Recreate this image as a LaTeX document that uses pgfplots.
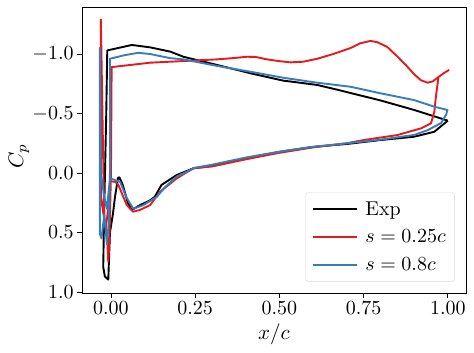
\documentclass[border=0pt]{standalone}
\usepackage{graphicx}
\usepackage{pgfplots}
\pgfplotsset{compat=1.18}
\definecolor{cred}{HTML}{E41A1C}
\definecolor{cblue}{HTML}{377EB8}
\newcommand{\legtxt}[1]{\scalebox{2.0}{#1}}
\begin{document}
\begin{tikzpicture}
\begin{axis}[
  scale only axis,
  width=384pt, height=286pt,
  xmin=-0.086, xmax=1.054,
  ymin=-1.395, ymax=1.008,
  y dir=reverse,
  axis line style={line width=0.8pt},
  tick align=outside,
  tick pos=left,
  major tick length=5pt,
  every tick/.style={black, line width=0.8pt},
  xtick={0,0.25,0.5,0.75,1},
  ytick={-1,-0.5,0,0.5,1},
  xticklabel style={/pgf/number format/.cd, fixed, fixed zerofill, precision=2},
  yticklabel style={/pgf/number format/.cd, fixed, fixed zerofill, precision=1},
  tick label style={font=\normalsize, scale=2.0, inner sep=1.5pt},
  xlabel={$x/c$}, ylabel={$C_p$},
  label style={font=\normalsize, scale=2.1, inner sep=0pt},
  xlabel style={at={(axis description cs:0.5,-0.143)}, anchor=center},
  ylabel style={at={(axis description cs:-0.164,0.48)}, anchor=center},
  legend style={at={(0.971,0.04)}, anchor=south east, draw=black!15, rounded corners=3pt,
    fill=white, font=\normalsize, row sep=9.5pt, column sep=5pt, inner xsep=7pt, inner ysep=7pt},
  legend cell align=left,
  legend image code/.code={\draw[#1] plot coordinates {(0pt,0pt) (22pt,0pt) (44pt,0pt)};},
]
\addplot[black, line width=1.9pt, line join=round] coordinates {
(1.000,-0.44)(0.90,-0.53)(0.80,-0.61)(0.672,-0.70)(0.612,-0.74)(0.53,-0.77)(0.512,-0.776)
(0.414,-0.838)(0.315,-0.908)(0.215,-0.977)(0.176,-1.02)(0.116,-1.056)(0.062,-1.076)
(-0.011,-1.03)(-0.014,-0.5)(-0.020,0.3)(-0.023,0.79)(-0.018,0.87)(-0.008,0.895)
(-0.003,0.5)(0.006,0.34)(0.012,0.2)(0.021,0.04)(0.025,0.036)(0.035,0.1)(0.05,0.25)
(0.062,0.31)(0.086,0.27)(0.116,0.23)(0.13,0.2)(0.15,0.10)(0.195,0.017)(0.245,-0.04)
(0.30,-0.06)(0.404,-0.123)(0.503,-0.179)(0.60,-0.22)(0.70,-0.244)(0.80,-0.277)
(0.90,-0.305)(0.96,-0.347)(1.000,-0.44)
};
\addlegendentry{\legtxt{Exp}}
\addplot[cred, line width=1.9pt, line join=round] coordinates {
(1.004,-0.866)(0.99,-0.843)(0.974,-0.81)(0.955,-0.77)(0.94,-0.759)(0.92,-0.78)(0.90,-0.83)(0.88,-0.893)
(0.85,-0.98)(0.82,-1.06)(0.79,-1.10)(0.77,-1.11)(0.74,-1.09)(0.711,-1.05)(0.66,-1.0)
(0.612,-0.96)(0.57,-0.935)(0.533,-0.93)(0.50,-0.94)(0.463,-0.955)(0.43,-0.975)(0.404,-0.977)
(0.36,-0.965)(0.315,-0.955)(0.215,-0.941)(0.116,-0.927)(0.002,-0.89)(0.000,0.0)
(-0.005,0.6)(-0.008,0.745)(-0.012,0.5)(-0.02,0.4)(-0.030,-1.29)(-0.030,0.2)
(-0.022,0.35)(-0.015,0.45)(-0.008,0.3)(-0.003,0.07)(0.012,0.073)(0.022,0.10)(0.047,0.27)
(0.066,0.325)(0.086,0.31)(0.116,0.27)(0.146,0.157)(0.195,0.045)(0.245,-0.04)(0.30,-0.055)
(0.40,-0.115)(0.50,-0.17)(0.60,-0.215)(0.70,-0.25)(0.75,-0.277)(0.85,-0.319)(0.92,-0.375)
(0.95,-0.417)(0.96,-0.515)(0.965,-0.65)(0.972,-0.80)
};
\addlegendentry{\legtxt{$s=0.25c$}}
\addplot[cblue, line width=1.9pt, line join=round] coordinates {
(0.995,-0.49)(0.999,-0.53)(0.96,-0.557)(0.90,-0.613)(0.80,-0.67)(0.711,-0.725)(0.612,-0.759)
(0.513,-0.80)(0.414,-0.851)(0.315,-0.90)(0.215,-0.955)(0.176,-0.965)(0.116,-1.0)(0.081,-1.01)
(0.04,-0.99)(-0.003,-0.96)(-0.003,0.0)(-0.006,0.4)(-0.012,0.6)(-0.02,0.35)(-0.028,0.55)
(-0.033,0.51)(-0.033,-1.05)(-0.030,0.0)(-0.02,0.2)(-0.012,0.3)(-0.003,0.045)(0.012,0.059)
(0.027,0.073)(0.045,0.2)(0.066,0.30)(0.096,0.27)(0.136,0.2)(0.16,0.12)(0.195,0.03)
(0.25,-0.045)(0.30,-0.07)(0.40,-0.13)(0.50,-0.18)(0.60,-0.22)(0.70,-0.25)(0.80,-0.28)
(0.90,-0.32)(0.94,-0.36)(0.98,-0.42)(0.995,-0.49)
};
\addlegendentry{\legtxt{$s=0.8c$}}
\end{axis}
\path ([shift={(-82pt,-60pt)}]current axis.south west) rectangle ([shift={(8pt,7pt)}]current axis.north east);
\end{tikzpicture}
\end{document}
